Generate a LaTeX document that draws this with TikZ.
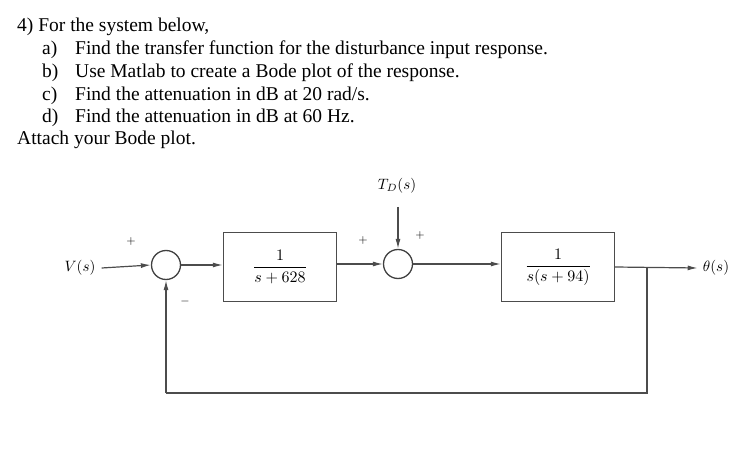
\documentclass[tikz,border=0pt]{standalone}
\usepackage{fontspec}
\usepackage{graphicx}
\setmainfont{Liberation Serif}
\usetikzlibrary{arrows.meta}
\begin{document}
\begin{tikzpicture}[x=1pt,y=-1pt,
  txt/.style={anchor=base west,inner sep=0pt,font=\fontsize{19.5}{22}\selectfont},
  blk/.style={draw=black!70,line width=1.4pt,minimum width=113pt,minimum height=69pt,inner sep=0pt},
  sumc/.style={draw=black!75,line width=1.3pt,circle,minimum size=29pt,inner sep=0pt},
  sig/.style={draw=black!70,line width=1.2pt,-{Latex[length=10pt,width=5pt]}},
  wire/.style={draw=black!70,line width=1.2pt},
  lbl/.style={inner sep=0pt},
  sgn/.style={inner sep=0pt}]
\useasboundingbox (0,0) rectangle (751,462);
\node[txt] (t0) at (17,32) {4) For the system below,};
\node[txt] (a1) at (42,55) {a)};\node[txt] (a2) at (75,55) {Find the transfer function for the disturbance input response.};
\node[txt] (b1) at (42,78) {b)};\node[txt] (b2) at (75,78) {Use Matlab to create a Bode plot of the response.};
\node[txt] (c1) at (42,101) {c)};\node[txt] (c2) at (75,101) {Find the attenuation in dB at 20 rad/s.};
\node[txt] (d1) at (42,123) {d)};\node[txt] (d2) at (75,123) {Find the attenuation in dB at 60 Hz.};
\node[txt] (t1) at (17,145) {Attach your Bode plot.};

\node[sumc] (s1) at (166,265) {};
\node[blk] (g1) at (280,267) {\scalebox{1.6}{$\displaystyle\frac{1}{s+628}$}};
\node[sumc] (s2) at (398,264) {};
\node[blk] (g2) at (558,267) {\scalebox{1.6}{$\displaystyle\frac{1}{s(s+94)}$}};
\node[lbl] (v) at (80,268) {\scalebox{1.5}{$V(s)$}};
\node[lbl] (th) at (716,268) {\scalebox{1.5}{$\theta(s)$}};
\node[lbl] (td) at (397,186) {\scalebox{1.5}{$T_{D}(s)$}};
\coordinate (tdtop) at (398,207);
\coordinate (br) at (647,267);
\coordinate (bl) at (647,393);
\coordinate (fl) at (166,393);
\draw[sig] (v.east)++(6,0) -- (s1.west);
\draw[sig] (s1.east) -- (g1.west|-s1.east);
\draw[sig] (g1.east|-s2.west) -- (s2.west);
\draw[sig] (tdtop) -- (s2.north);
\draw[sig] (s2.east) -- (g2.west|-s2.east);
\draw[sig] (g2.east) -- ([xshift=-5pt]th.west);
\draw[wire] (br) -- (bl) -- (fl);
\draw[sig] (fl) -- (s1.south);
\node[sgn] at (131,241) {\scalebox{1.2}{$+$}};
\node[sgn] at (185,301) {\scalebox{1.2}{$-$}};
\node[sgn] at (363,240) {\scalebox{1.2}{$+$}};
\node[sgn] at (420,235) {\scalebox{1.2}{$+$}};
\end{tikzpicture}
\end{document}
